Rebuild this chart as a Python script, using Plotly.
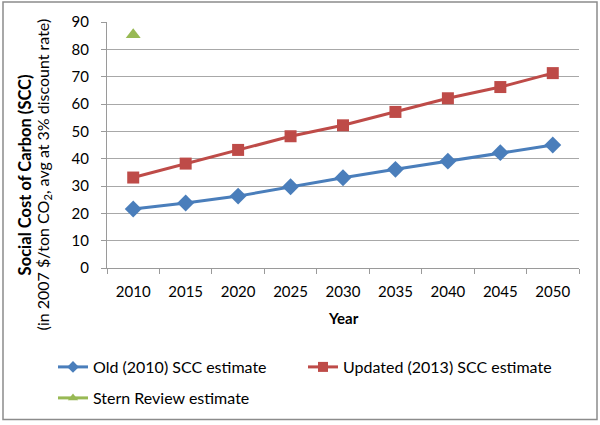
import plotly.graph_objects as go

years = ["2010", "2015", "2020", "2025", "2030", "2035", "2040", "2045", "2050"]
old_scc = [21.6, 23.8, 26.3, 29.7, 33.0, 36.1, 39.1, 42.2, 45.0]
updated_scc = [33.1, 38.2, 43.2, 48.2, 52.2, 57.1, 62.1, 66.2, 71.3]
stern_years = ["2010"]
stern_scc = [85.3]
y_ticks = [0, 10, 20, 30, 40, 50, 60, 70, 80, 90]

names = ["Old (2010) SCC estimate", "Updated (2013) SCC estimate", "Stern Review estimate"]
colors = ["#4A7EBB", "#BE4B48", "#98B954"]
symbols = ["diamond", "square", "triangle-up"]

FONT = "Lato, Calibri, Carlito, sans-serif"
W, H = 600, 425
L, R, T, B = 107, 21, 22, 156
PW, PH = W - L - R, H - T - B

def px(x):
    return (x - L) / PW

def py(y):
    return (H - B - y) / PH

fig = go.Figure()
series = [(years, old_scc, 13), (years, updated_scc, 12), (stern_years, stern_scc, 13)]
for (xs, ys, msize), name, col, sym in zip(series, names, colors, symbols):
    fig.add_trace(go.Scatter(
        x=xs, y=ys, mode="lines+markers", name=name, showlegend=False,
        line=dict(color=col, width=3),
        marker=dict(symbol=sym, size=msize, color=col)))

# legend entries (smaller symbols, as in the reference legend)
legend_sizes = [9, 10, 9]
legend_ids = ["legend", "legend", "legend2"]
for name, col, sym, ms, lid in zip(names, colors, symbols, legend_sizes, legend_ids):
    fig.add_trace(go.Scatter(
        x=[None], y=[None], mode="lines+markers", name=name, showlegend=True,
        line=dict(color=col, width=3),
        marker=dict(symbol=sym, size=ms, color=col), legend=lid))

fig.update_layout(
    width=W, height=H,
    margin=dict(l=L, r=R, t=T, b=B),
    paper_bgcolor="white", plot_bgcolor="white",
    font=dict(family=FONT, size=15, color="#000000"),
    legend=dict(orientation="h", x=px(53), y=py(367), xanchor="left", yanchor="middle",
                entrywidth=205, entrywidthmode="pixels",
                font=dict(family=FONT, size=16, color="#000000"),
                bgcolor="rgba(0,0,0,0)"),
    legend2=dict(orientation="h", x=px(53), y=py(398), xanchor="left", yanchor="middle",
                 font=dict(family=FONT, size=16, color="#000000"),
                 bgcolor="rgba(0,0,0,0)"),
)

fig.update_xaxes(
    type="category", categoryorder="array", categoryarray=years,
    range=[-0.5, len(years) - 0.5],
    showline=True, linecolor="#9a9a9a", linewidth=1,
    ticks="outside", tickson="boundaries", ticklen=5, tickcolor="#9a9a9a",
    ticklabelstandoff=10,
    showgrid=False, zeroline=False,
    tickfont=dict(family=FONT, size=15, color="#000000"),
)
fig.update_yaxes(
    range=[0, 90], tickvals=y_ticks,
    showline=True, linecolor="#9a9a9a", linewidth=1,
    ticks="outside", ticklen=5, tickcolor="#9a9a9a",
    ticklabelstandoff=9,
    showgrid=True, gridcolor="#a8a8a8", gridwidth=1, zeroline=False,
    tickfont=dict(family=FONT, size=15, color="#000000"),
)

fig.add_annotation(
    text="<b>Social Cost of Carbon (SCC)</b>", textangle=-90,
    xref="paper", yref="paper", x=px(25), y=py(176), showarrow=False,
    xanchor="center", yanchor="middle",
    font=dict(family=FONT, size=16.5, color="#000000"))
fig.add_annotation(
    text="(in 2007 $/ton CO<sub>2</sub>, avg at 3% discount rate)", textangle=-90,
    xref="paper", yref="paper", x=px(43), y=py(175), showarrow=False,
    xanchor="center", yanchor="middle",
    font=dict(family=FONT, size=16, color="#000000"))
fig.add_annotation(
    text="<b>Year</b>", xref="paper", yref="paper", x=px(343), y=py(319),
    showarrow=False, xanchor="center", yanchor="middle",
    font=dict(family=FONT, size=15, color="#000000"))

fig.add_shape(type="rect", xref="paper", yref="paper",
              x0=px(3), x1=px(597), y0=py(421), y1=py(2),
              line=dict(color="#8c8c8c", width=1.5), fillcolor="rgba(0,0,0,0)", layer="below")

fig.write_html("out.html")
